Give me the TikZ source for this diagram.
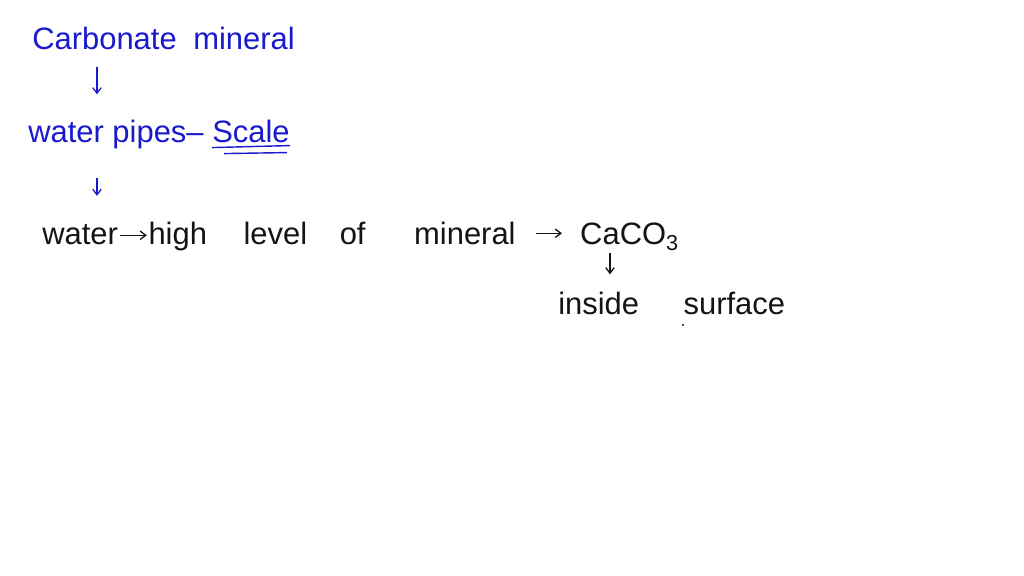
\documentclass[tikz,border=0pt]{standalone}
\usepackage{fontspec}
\setmainfont{Liberation Sans}
\usetikzlibrary{arrows.meta, positioning, calc}
\definecolor{inkblue}{RGB}{25,25,205}
\definecolor{inkblack}{RGB}{20,20,20}

\begin{document}
\begin{tikzpicture}[x=0.025cm, y=-0.025cm,
    note/.style={inner sep=0pt, anchor=base west, font=\fontsize{22}{26}\selectfont},
    bnote/.style={note, text=inkblue},
    knote/.style={note, text=inkblack},
    arr/.style={-{Straight Barb[length=4pt, width=6pt]}, line width=0.9pt},
    barr/.style={arr, draw=inkblue},
    karr/.style={arr, draw=inkblack}
]
\useasboundingbox[fill=white] (0,0) rectangle (1024,576);

\node[bnote] (carb) at (32,50) {Carbonate\hspace{0.2cm} mineral};
\node[bnote] (pipes) at (28,143) {water pipes--};
\node[bnote] (scale) at (212,143) {Scale};

\node[knote] (water) at (42,245) {water};
\node[knote, right=0.75cm of water.base east, anchor=base west] (high)
    {high\hspace{0.7cm} level\hspace{0.6cm} of\hspace{1cm} mineral};
\node[knote, right=1.6cm of high.base east, anchor=base west] (caco) {CaCO\textsubscript{3}};
\node[knote] (inside) at (558,315) {inside\hspace{0.9cm} surface};

\draw[barr, shorten <=0.4cm, shorten >=0.65cm] ($(carb.south west)+(65,0)$) -- ($(pipes.north west)+(69,0)$);
\draw[barr, shorten <=0.7cm, shorten >=0.72cm] ($(pipes.south west)+(69,0)$) -- ($(water.north west)+(55,0)$);
\draw[karr, shorten <=1pt, shorten >=1pt] ($(water.mid east)+(0,-6)$) -- ($(high.mid west)+(0,-6)$);
\draw[karr, shorten <=0.5cm, shorten >=0.45cm] ($(high.mid east)+(0,-8)$) -- ($(caco.mid west)+(0,-8)$);
\draw[karr, shorten <=0.05cm, shorten >=0.45cm] ($(caco.south west)+(30,0)$) coordinate (cdown) -- (cdown |- inside.north);

\draw[inkblue, line width=1pt] ($(scale.south west)+(0,4)$) -- ($(scale.south east)+(0,2)$);
\draw[inkblue, line width=1pt] ($(scale.south west)+(12,10)$) -- ($(scale.south east)+(-3,9)$);
\fill[inkblack] (683,325) circle (1.2);
\end{tikzpicture}
\end{document}
